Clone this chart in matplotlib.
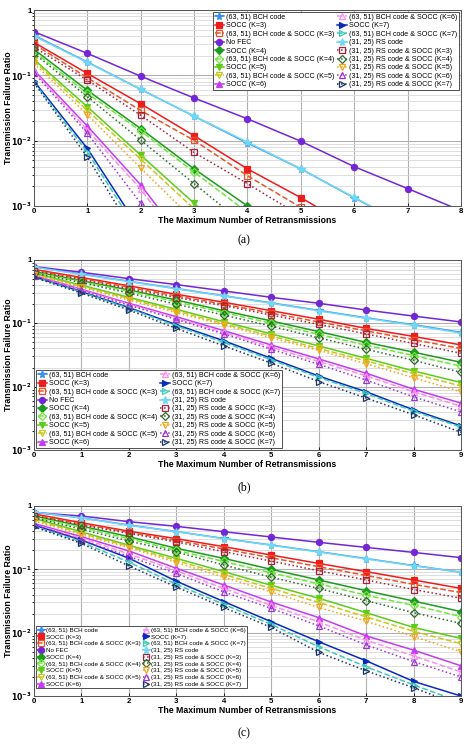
import matplotlib
matplotlib.use("Agg")
import math
import matplotlib.pyplot as plt
from matplotlib.ticker import FixedLocator, LogLocator, NullFormatter, FuncFormatter

plt.rcParams['font.family'] = ['Liberation Sans', 'DejaVu Sans']

labels = ["(63, 51) BCH code", "SOCC (K=3)", "(63, 51) BCH code & SOCC (K=3)", "No FEC",
          "SOCC (K=4)", "(63, 51) BCH code & SOCC (K=4)", "SOCC (K=5)",
          "(63, 51) BCH code & SOCC (K=5)", "SOCC (K=6)",
          "(63, 51) BCH code & SOCC (K=6)", "SOCC (K=7)", "(63, 51) BCH code & SOCC (K=7)",
          "(31, 25) RS code", "(31, 25) RS code & SOCC (K=3)", "(31, 25) RS code & SOCC (K=4)",
          "(31, 25) RS code & SOCC (K=5)", "(31, 25) RS code & SOCC (K=6)",
          "(31, 25) RS code & SOCC (K=7)"]

# ---- panel (a) data ----
a_bch = [0.41, 0.16, 0.061, 0.0237, 0.0092, 0.0037, 0.00133, 0.0005]
a_socc3 = [0.32, 0.107, 0.0367, 0.0119, 0.0037, 0.00134, 0.00045]
a_bch3 = [0.30, 0.092, 0.029, 0.0101, 0.0029, 0.00095, 0.0003]
a_nofec = [0.466, 0.217, 0.097, 0.045, 0.0216, 0.0098, 0.0040, 0.00185, 0.00085]
a_socc4 = [0.25, 0.059, 0.0153, 0.0037, 0.001, 0.00025]
a_bch4 = [0.23, 0.053, 0.0141, 0.0033, 0.0008]
a_socc5 = [0.175, 0.033, 0.006, 0.0011, 0.0002]
a_bch5 = [0.165, 0.029, 0.0052, 0.0009]
a_socc6 = [0.12, 0.0167, 0.0021, 0.00018]
a_bch6 = [0.115, 0.0145, 0.0018, 0.00015]
a_socc7 = [0.0816, 0.0076, 0.00042]
a_bch7 = [0.078, 0.0067, 0.00035]
a_rs = [0.40, 0.158, 0.061, 0.0238, 0.0095, 0.0037, 0.00135, 0.0005]
a_rs3 = [0.27, 0.0845, 0.0245, 0.0066, 0.0022, 0.0007]
a_rs4 = [0.217, 0.047, 0.0102, 0.0022, 0.00048]
a_rs5 = [0.152, 0.025, 0.0038, 0.0006]
a_rs6 = [0.11, 0.013, 0.0011, 0.0001]
a_rs7 = [0.077, 0.0056, 0.00026]

# ---- panel (b) data ----
b_bch = [0.78, 0.60, 0.46, 0.355, 0.272, 0.21, 0.16, 0.122, 0.095, 0.072]
b_socc3 = [0.71, 0.53, 0.39, 0.287, 0.215, 0.158, 0.116, 0.083, 0.062, 0.0455]
b_bch3 = [0.69, 0.51, 0.37, 0.27, 0.2, 0.145, 0.105, 0.076, 0.055, 0.040]
b_nofec = [0.785, 0.64, 0.507, 0.408, 0.324, 0.257, 0.207, 0.162, 0.13, 0.105]
b_socc4 = [0.655, 0.47, 0.336, 0.233, 0.158, 0.109, 0.074, 0.05, 0.035, 0.0242]
b_bch4 = [0.64, 0.455, 0.32, 0.218, 0.148, 0.1, 0.067, 0.045, 0.031, 0.021]
b_socc5 = [0.615, 0.40, 0.257, 0.166, 0.106, 0.068, 0.044, 0.028, 0.0177, 0.0116]
b_bch5 = [0.60, 0.385, 0.245, 0.156, 0.099, 0.063, 0.04, 0.0255, 0.016, 0.0102]
b_socc6 = [0.57, 0.344, 0.207, 0.127, 0.0766, 0.0455, 0.0274, 0.0163, 0.0091, 0.0055]
b_bch6 = [0.56, 0.335, 0.2, 0.12, 0.072, 0.042, 0.025, 0.0148, 0.0083, 0.0049]
b_socc7 = [0.545, 0.316, 0.177, 0.095, 0.053, 0.028, 0.0147, 0.0083, 0.0043, 0.0024]
b_bch7 = [0.54, 0.31, 0.172, 0.091, 0.05, 0.0265, 0.014, 0.0078, 0.0041, 0.0023]
b_rs = [0.77, 0.59, 0.455, 0.35, 0.27, 0.207, 0.157, 0.12, 0.093, 0.070]
b_rs3 = [0.67, 0.49, 0.35, 0.255, 0.19, 0.135, 0.096, 0.068, 0.048, 0.0336]
b_rs4 = [0.62, 0.44, 0.30, 0.20, 0.135, 0.09, 0.059, 0.039, 0.026, 0.0168]
b_rs5 = [0.58, 0.37, 0.232, 0.147, 0.094, 0.059, 0.0375, 0.023, 0.0138, 0.0083]
b_rs6 = [0.55, 0.33, 0.193, 0.115, 0.068, 0.039, 0.0225, 0.0127, 0.0069, 0.004]
b_rs7 = [0.53, 0.30, 0.162, 0.083, 0.044, 0.0235, 0.012, 0.0066, 0.0036, 0.0019]

# ---- panel (c) data ----
c_bch = [0.80, 0.65, 0.50, 0.395, 0.307, 0.242, 0.19, 0.148, 0.115, 0.09]
c_socc3 = [0.75, 0.545, 0.40, 0.305, 0.228, 0.168, 0.124, 0.092, 0.068, 0.050]
c_bch3 = [0.72, 0.52, 0.385, 0.285, 0.21, 0.152, 0.11, 0.08, 0.058, 0.043]
c_nofec = [0.785, 0.695, 0.566, 0.477, 0.393, 0.324, 0.267, 0.222, 0.185, 0.153]
c_socc4 = [0.695, 0.483, 0.328, 0.215, 0.149, 0.1, 0.068, 0.046, 0.0316, 0.0215]
c_bch4 = [0.67, 0.46, 0.305, 0.2, 0.133, 0.088, 0.059, 0.039, 0.027, 0.018]
c_socc5 = [0.64, 0.39, 0.24, 0.149, 0.092, 0.056, 0.035, 0.0207, 0.0121, 0.0081]
c_bch5 = [0.61, 0.37, 0.23, 0.138, 0.083, 0.05, 0.03, 0.0178, 0.0105, 0.0067]
c_socc6 = [0.53, 0.328, 0.195, 0.104, 0.0566, 0.0305, 0.0173, 0.0089, 0.0053, 0.003]
c_bch6 = [0.51, 0.31, 0.175, 0.095, 0.05, 0.027, 0.0148, 0.0076, 0.0043, 0.0024]
c_socc7 = [0.50, 0.29, 0.15, 0.065, 0.031, 0.0149, 0.0072, 0.0036, 0.0017, 0.001]
c_bch7 = [0.48, 0.27, 0.13, 0.058, 0.028, 0.0135, 0.006, 0.0029, 0.0015, 0.0008]
c_rs = [0.80, 0.647, 0.495, 0.393, 0.305, 0.24, 0.188, 0.146, 0.114, 0.0897]
c_rs3 = [0.70, 0.50, 0.37, 0.27, 0.19, 0.135, 0.095, 0.068, 0.048, 0.035]
c_rs4 = [0.65, 0.43, 0.28, 0.188, 0.117, 0.075, 0.05, 0.032, 0.0207, 0.014]
c_rs5 = [0.58, 0.35, 0.22, 0.128, 0.075, 0.044, 0.025, 0.0152, 0.0087, 0.005]
c_rs6 = [0.50, 0.29, 0.16, 0.086, 0.044, 0.0242, 0.0128, 0.0064, 0.0035, 0.002]
c_rs7 = [0.47, 0.257, 0.113, 0.0526, 0.025, 0.0121, 0.0049, 0.0025, 0.00135, 0.0007]

panel_a = [a_bch, a_socc3, a_bch3, a_nofec, a_socc4, a_bch4, a_socc5, a_bch5, a_socc6,
           a_bch6, a_socc7, a_bch7, a_rs, a_rs3, a_rs4, a_rs5, a_rs6, a_rs7]
panel_b = [b_bch, b_socc3, b_bch3, b_nofec, b_socc4, b_bch4, b_socc5, b_bch5, b_socc6,
           b_bch6, b_socc7, b_bch7, b_rs, b_rs3, b_rs4, b_rs5, b_rs6, b_rs7]
panel_c = [c_bch, c_socc3, c_bch3, c_nofec, c_socc4, c_bch4, c_socc5, c_bch5, c_socc6,
           c_bch6, c_socc7, c_bch7, c_rs, c_rs3, c_rs4, c_rs5, c_rs6, c_rs7]

# style: (color, marker, filled, linestyle)
styles = [
    ("#3d8ef0", "*", True, "-"),
    ("#ee1c1c", "s", True, "-"),
    ("#e8552a", "s", False, "--"),
    ("#7426d6", "o", True, "-"),
    ("#1e9a1e", "D", True, "-"),
    ("#6de83a", "D", False, "--"),
    ("#5ccc1a", "v", True, "-"),
    ("#c8c81a", "v", False, "--"),
    ("#c43cf0", "^", True, "-"),
    ("#ff8cf0", "^", False, "--"),
    ("#0a2aba", ">", True, "-"),
    ("#3ccab8", ">", False, "--"),
    ("#6fd8f5", "*", True, "-"),
    ("#a8203c", "s", False, ":"),
    ("#2f6a2f", "D", False, ":"),
    ("#f5a41a", "v", False, ":"),
    ("#9a34d8", "^", False, ":"),
    ("#1e3566", ">", False, ":"),
]

fig = plt.figure(figsize=(4.74, 7.44), dpi=100)

def fmt(v, pos):
    if abs(v - 1) < 1e-9:
        return "1"
    e = int(round(math.log10(v)))
    return r"$\mathbf{10^{%d}}$" % e

def draw(ax, data, xmax, legloc, legbox, legfont, lspace, hlen):
    for vals, (col, mk, filled, ls), lab in zip(data, styles, labels):
        xs = list(range(len(vals)))
        ms = 5.8 if mk == "*" else 4.4
        if mk == "D":
            ms = 3.6
        ax.plot(xs, vals, color=col, ls=ls, lw=1.1, marker=mk, markersize=ms,
                markerfacecolor=col if filled else "none", markeredgecolor=col,
                markeredgewidth=0.9, label=lab, clip_on=True)
    ax.set_yscale("log")
    ax.set_ylim(1e-3, 1)
    ax.set_xlim(0, xmax)
    ax.xaxis.set_major_locator(FixedLocator(list(range(xmax + 1))))
    ax.yaxis.set_major_locator(FixedLocator([1e-3, 1e-2, 1e-1, 1]))
    ax.yaxis.set_minor_locator(LogLocator(base=10, subs=range(2, 10)))
    ax.yaxis.set_minor_formatter(NullFormatter())
    ax.yaxis.set_major_formatter(FuncFormatter(fmt))
    ax.grid(True, which="major", color="#b0b0b0", lw=0.8)
    ax.grid(True, which="minor", axis="y", color="#d8d8d8", lw=0.6)
    ax.tick_params(labelsize=5.6, length=2, width=0.6, direction="in", pad=1.5)
    ax.tick_params(which="minor", length=1.2)
    for t in ax.get_xticklabels() + ax.get_yticklabels():
        t.set_fontweight("bold")
    ax.set_xlabel("The Maximum Number of Retransmissions", fontsize=6.3,
                  fontweight="bold", labelpad=1)
    ax.set_ylabel("Transmission Failure Ratio", fontsize=6.3, fontweight="bold")
    ax.yaxis.set_label_coords(-0.05, 0.5)
    for s in ax.spines.values():
        s.set_color("#555555")
        s.set_linewidth(0.7)
    leg = ax.legend(loc=legloc, bbox_to_anchor=legbox, ncol=2, fontsize=legfont,
                    frameon=True, fancybox=False, handlelength=hlen, handletextpad=0.3,
                    columnspacing=0.4, labelspacing=lspace, borderpad=0.25,
                    borderaxespad=0.3)
    leg.get_frame().set_edgecolor("#333333")
    leg.get_frame().set_linewidth(0.6)
    leg.get_frame().set_alpha(1)

ax_a = fig.add_axes([0.0717, 0.7231, 0.9009, 0.2634])
draw(ax_a, panel_a, 8, "upper right", (1.0, 1.0), 5.1, 0.2, 1.3)
ax_b = fig.add_axes([0.0717, 0.3952, 0.9009, 0.2554])
draw(ax_b, panel_b, 9, "lower left", (0.0, 0.0), 5.1, 0.2, 1.3)
ax_c = fig.add_axes([0.0717, 0.0645, 0.9009, 0.2554])
draw(ax_c, panel_c, 9, "lower left", (0.0, 0.03), 4.5, 0.22, 1.0)

for yy, txt in [(0.677, "(a)"), (0.345, "(b)"), (0.014, "(c)")]:
    fig.text(0.515, yy, txt, ha="center", va="center", fontsize=8.5,
             family=["Liberation Serif", "DejaVu Serif"])

fig.savefig("out.png", dpi=100)
